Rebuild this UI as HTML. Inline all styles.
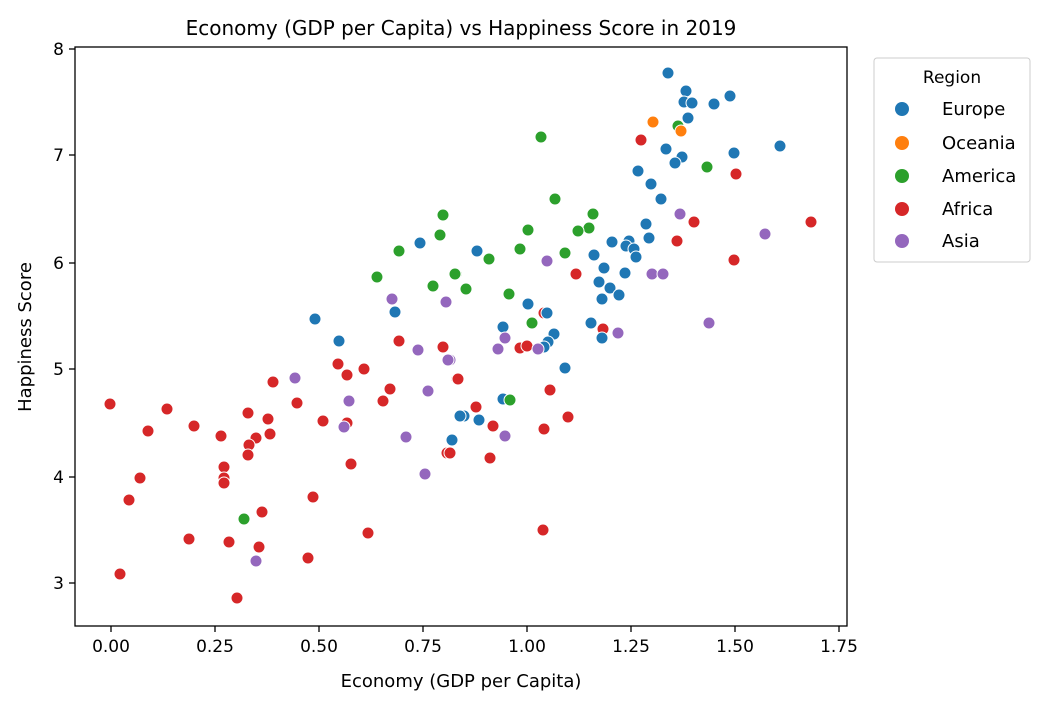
<!DOCTYPE html>
<html><head><meta charset="utf-8"><style>body{margin:0;background:#fff}svg{display:block}text{font-family:"DejaVu Sans","Liberation Sans",sans-serif;fill:#000}</style></head><body>
<svg width="1055" height="708" xmlns="http://www.w3.org/2000/svg">
<rect width="1055" height="708" fill="#fff"/>
<text x="461" y="35" font-size="20" text-anchor="middle">Economy (GDP per Capita) vs Happiness Score in 2019</text>
<g stroke="#000" stroke-width="1.3">
<line x1="111" y1="626" x2="111" y2="632"/><line x1="215" y1="626" x2="215" y2="632"/><line x1="319" y1="626" x2="319" y2="632"/><line x1="423" y1="626" x2="423" y2="632"/><line x1="527" y1="626" x2="527" y2="632"/><line x1="631" y1="626" x2="631" y2="632"/><line x1="735" y1="626" x2="735" y2="632"/><line x1="839" y1="626" x2="839" y2="632"/>
<line x1="69" y1="49" x2="75" y2="49"/><line x1="69" y1="155" x2="75" y2="155"/><line x1="69" y1="263" x2="75" y2="263"/><line x1="69" y1="369" x2="75" y2="369"/><line x1="69" y1="477" x2="75" y2="477"/><line x1="69" y1="583" x2="75" y2="583"/>
</g>
<g font-size="17" text-anchor="middle">
<text x="111" y="652">0.00</text><text x="215" y="652">0.25</text><text x="319" y="652">0.50</text><text x="423" y="652">0.75</text><text x="527" y="652">1.00</text><text x="631" y="652">1.25</text><text x="735" y="652">1.50</text><text x="839" y="652">1.75</text>
</g>
<g font-size="17" text-anchor="end">
<text x="64" y="55">8</text><text x="64" y="161">7</text><text x="64" y="269">6</text><text x="64" y="375">5</text><text x="64" y="483">4</text><text x="64" y="589">3</text>
</g>
<text x="461" y="687" font-size="18" text-anchor="middle">Economy (GDP per Capita)</text>
<text transform="translate(31,337) rotate(-90)" font-size="18" text-anchor="middle">Happiness Score</text>
<g stroke="#fff" stroke-width="1" >
<g fill="#d62728">
<circle cx="641" cy="140" r="6"/><circle cx="736" cy="174" r="6"/><circle cx="694" cy="222" r="6"/><circle cx="811" cy="222" r="6"/><circle cx="677" cy="241" r="6"/><circle cx="734" cy="260" r="6"/><circle cx="576" cy="274" r="6"/><circle cx="603" cy="329" r="6"/><circle cx="544" cy="313" r="6"/>
<circle cx="399" cy="341" r="6"/><circle cx="443" cy="347" r="6"/><circle cx="338" cy="364" r="6"/><circle cx="347" cy="375" r="6"/><circle cx="364" cy="369" r="6"/><circle cx="273" cy="382" r="6"/><circle cx="297" cy="403" r="6"/><circle cx="390" cy="389" r="6"/><circle cx="383" cy="401" r="6"/><circle cx="457" cy="379" r="6"/><circle cx="110" cy="404" r="6"/><circle cx="167" cy="409" r="6"/><circle cx="148" cy="431" r="6"/><circle cx="194" cy="426" r="6"/><circle cx="221" cy="436" r="6"/><circle cx="248" cy="413" r="6"/><circle cx="268" cy="419" r="6"/><circle cx="256" cy="438" r="6"/><circle cx="249" cy="445" r="6"/><circle cx="270" cy="434" r="6"/><circle cx="248" cy="455" r="6"/><circle cx="323" cy="421" r="6"/><circle cx="347" cy="423" r="6"/><circle cx="224" cy="467" r="6"/><circle cx="224" cy="478" r="6"/><circle cx="224" cy="483" r="6"/><circle cx="140" cy="478" r="6"/><circle cx="129" cy="500" r="6"/><circle cx="351" cy="464" r="6"/><circle cx="447" cy="453" r="6"/><circle cx="313" cy="497" r="6"/><circle cx="262" cy="512" r="6"/><circle cx="189" cy="539" r="6"/><circle cx="229" cy="542" r="6"/><circle cx="259" cy="547" r="6"/><circle cx="368" cy="533" r="6"/><circle cx="308" cy="558" r="6"/><circle cx="120" cy="574" r="6"/><circle cx="237" cy="598" r="6"/>
<circle cx="520" cy="348" r="6"/><circle cx="527" cy="346" r="6"/><circle cx="458" cy="379" r="6"/><circle cx="550" cy="390" r="6"/><circle cx="476" cy="407" r="6"/><circle cx="493" cy="426" r="6"/><circle cx="568" cy="417" r="6"/><circle cx="544" cy="429" r="6"/><circle cx="490" cy="458" r="6"/><circle cx="543" cy="530" r="6"/><circle cx="450" cy="453" r="6"/>
</g>
<g fill="#1f77b4">
<circle cx="668" cy="73" r="6"/><circle cx="686" cy="91" r="6"/><circle cx="684" cy="102" r="6"/><circle cx="692" cy="103" r="6"/><circle cx="714" cy="104" r="6"/><circle cx="730" cy="96" r="6"/><circle cx="688" cy="118" r="6"/><circle cx="666" cy="149" r="6"/><circle cx="682" cy="157" r="6"/><circle cx="675" cy="163" r="6"/><circle cx="734" cy="153" r="6"/><circle cx="780" cy="146" r="6"/><circle cx="638" cy="171" r="6"/><circle cx="651" cy="184" r="6"/><circle cx="661" cy="199" r="6"/><circle cx="646" cy="224" r="6"/><circle cx="649" cy="238" r="6"/><circle cx="612" cy="242" r="6"/><circle cx="629" cy="241" r="6"/><circle cx="626" cy="246" r="6"/><circle cx="634" cy="249" r="6"/><circle cx="636" cy="257" r="6"/><circle cx="594" cy="255" r="6"/><circle cx="604" cy="268" r="6"/><circle cx="625" cy="273" r="6"/><circle cx="599" cy="282" r="6"/><circle cx="610" cy="288" r="6"/><circle cx="619" cy="295" r="6"/><circle cx="602" cy="299" r="6"/><circle cx="528" cy="304" r="6"/><circle cx="547" cy="313" r="6"/><circle cx="477" cy="251" r="6"/><circle cx="503" cy="327" r="6"/><circle cx="591" cy="323" r="6"/><circle cx="602" cy="338" r="6"/><circle cx="554" cy="334" r="6"/><circle cx="548" cy="342" r="6"/><circle cx="544" cy="347" r="6"/><circle cx="565" cy="368" r="6"/><circle cx="503" cy="399" r="6"/><circle cx="464" cy="416" r="6"/><circle cx="479" cy="420" r="6"/><circle cx="452" cy="440" r="6"/><circle cx="420" cy="243" r="6"/><circle cx="395" cy="312" r="6"/><circle cx="315" cy="319" r="6"/><circle cx="339" cy="341" r="6"/><circle cx="460" cy="416" r="6"/>
</g>
<g fill="#2ca02c">
<circle cx="678" cy="126" r="6"/><circle cx="541" cy="137" r="6"/><circle cx="707" cy="167" r="6"/><circle cx="555" cy="199" r="6"/><circle cx="593" cy="214" r="6"/><circle cx="589" cy="228" r="6"/><circle cx="578" cy="231" r="6"/><circle cx="528" cy="230" r="6"/><circle cx="520" cy="249" r="6"/><circle cx="565" cy="253" r="6"/><circle cx="489" cy="259" r="6"/><circle cx="456" cy="274" r="6"/><circle cx="466" cy="289" r="6"/><circle cx="509" cy="294" r="6"/><circle cx="532" cy="323" r="6"/><circle cx="443" cy="215" r="6"/><circle cx="440" cy="235" r="6"/><circle cx="399" cy="251" r="6"/><circle cx="377" cy="277" r="6"/><circle cx="433" cy="286" r="6"/><circle cx="455" cy="274" r="6"/><circle cx="510" cy="400" r="6"/><circle cx="244" cy="519" r="6"/>
</g>
<g fill="#ff7f0e"><circle cx="653" cy="122" r="6"/><circle cx="681" cy="131" r="6"/></g>
<g fill="#9467bd">
<circle cx="680" cy="214" r="6"/><circle cx="765" cy="234" r="6"/><circle cx="547" cy="261" r="6"/><circle cx="652" cy="274" r="6"/><circle cx="663" cy="274" r="6"/><circle cx="709" cy="323" r="6"/><circle cx="618" cy="333" r="6"/><circle cx="505" cy="338" r="6"/><circle cx="498" cy="349" r="6"/><circle cx="538" cy="349" r="6"/><circle cx="505" cy="436" r="6"/><circle cx="450" cy="360" r="6"/>
<circle cx="392" cy="299" r="6"/><circle cx="446" cy="302" r="6"/><circle cx="418" cy="350" r="6"/><circle cx="295" cy="378" r="6"/><circle cx="448" cy="360" r="6"/><circle cx="349" cy="401" r="6"/><circle cx="344" cy="427" r="6"/><circle cx="428" cy="391" r="6"/><circle cx="406" cy="437" r="6"/><circle cx="425" cy="474" r="6"/><circle cx="256" cy="561" r="6"/>
</g>
</g>
<rect x="75" y="47" width="772" height="579" fill="none" stroke="#000" stroke-width="1.3"/>
<rect x="874" y="58" width="156" height="204" rx="3" fill="#fff" stroke="#ccc" stroke-width="1"/>
<text x="952" y="83" font-size="17" text-anchor="middle">Region</text>
<g font-size="18">
<circle cx="902" cy="109" r="7" fill="#1f77b4"/><text x="942" y="115">Europe</text>
<circle cx="902" cy="143" r="7" fill="#ff7f0e"/><text x="942" y="149">Oceania</text>
<circle cx="902" cy="176" r="7" fill="#2ca02c"/><text x="942" y="182">America</text>
<circle cx="902" cy="209" r="7" fill="#d62728"/><text x="942" y="215">Africa</text>
<circle cx="902" cy="241" r="7" fill="#9467bd"/><text x="942" y="247">Asia</text>
</g>
</svg>
</body></html>
